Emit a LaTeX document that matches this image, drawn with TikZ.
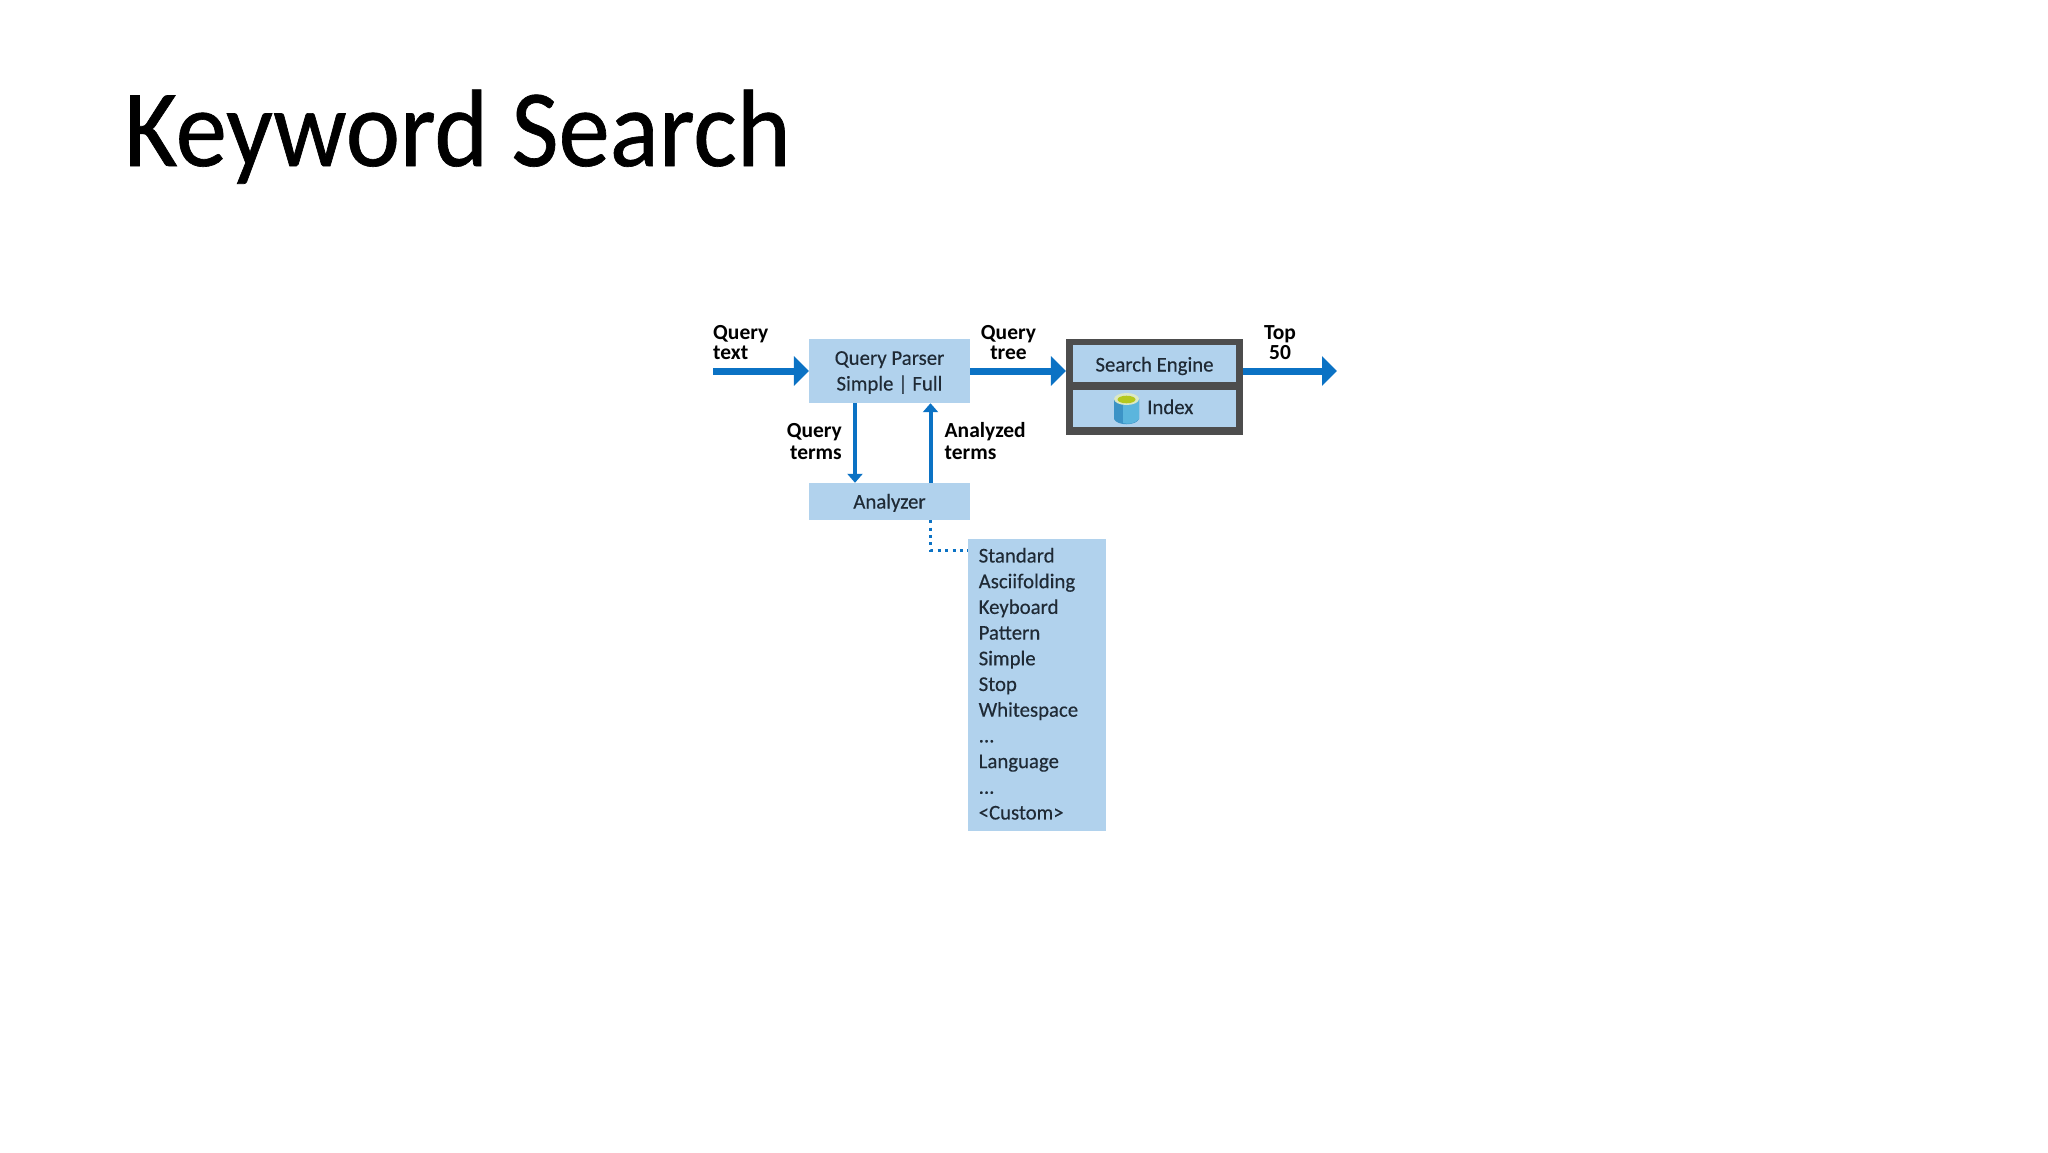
\documentclass[tikz,border=0pt]{standalone}
\usepackage{fontspec}
\setmainfont{Carlito}
\newfontfamily\titlefont[FakeStretch=0.934,FakeBold=0.6]{Carlito}
\newfontfamily\bodyfont[FakeBold=0.3,FakeStretch=0.99]{Carlito}
\usetikzlibrary{arrows.meta,calc}
\definecolor{boxblue}{HTML}{B1D2ED}
\definecolor{flowblue}{HTML}{0B72C4}
\definecolor{framegray}{HTML}{4D4D4D}
\definecolor{txt}{HTML}{1F2A35}
\definecolor{cyldark}{HTML}{3C93C6}
\definecolor{cyllight}{HTML}{5BB5DD}
\definecolor{cylring}{HTML}{DCE8C4}
\definecolor{cyltop}{HTML}{B4C81E}
\tikzset{
  x=1pt,y=-1pt,
  box/.style={fill=boxblue,draw=none,inner sep=0pt},
  body/.style={inner sep=0pt,text=txt,font=\bodyfont\fontsize{21}{25.7}\selectfont},
  lab/.style={inner sep=0pt,text=black,font=\fontsize{21.5}{20.5}\bfseries\selectfont},
  bigflow/.style={draw=flowblue,line width=7pt,-{Triangle[length=15pt,width=29pt]}},
  smallflow/.style={draw=flowblue,line width=4pt,-{Triangle[length=9pt,width=15pt]}},
  dotflow/.style={draw=flowblue,line width=3pt,dash pattern=on 3pt off 4.4pt},
}
\begin{document}
\begin{tikzpicture}
\useasboundingbox (0,0) rectangle (2048,1152);
\node[anchor=base west,inner sep=0pt,font=\titlefont\fontsize{110}{110}\selectfont,text=black] (title) at (124,166) {Keyword Search};

\coordinate (qin) at (713,371);
\coordinate (qout) at (1337,371);
\node[box,minimum width=161pt,minimum height=64pt] (qp) at (889.5,371) {};
\node[body,anchor=base,align=center] (qpt) at (889.5,390.5) {Query Parser\\Simple | Full};
\node[box,minimum width=161pt,minimum height=37pt] (an) at (889.5,501.5) {};
\node[body,anchor=base] (ant) at (889.5,508.5) {Analyzer};
\node[fill=framegray,minimum width=177pt,minimum height=96pt,inner sep=0pt] (frame) at (1154.5,387) {};
\node[box,minimum width=163pt,minimum height=37pt] (se) at (1154.5,363.5) {};
\node[body,anchor=base] (set) at (1154.5,371.5) {Search Engine};
\node[box,minimum width=163pt,minimum height=37pt] (ix) at (1154.5,408.5) {};
\node[body,anchor=base west] (ixt) at (1147,414) {Index};
\node[box,minimum width=138pt,minimum height=292pt] (list) at (1037,685) {};
\node[body,anchor=north west,align=left] (listt) at (978.5,547.7) {Standard\\Asciifolding\\Keyboard\\Pattern\\Simple\\Stop\\Whitespace\\...\\Language\\...\\<Custom>};

% index cylinder
\fill[cyldark] (1114,399) -- (1114,419) .. controls (1117,426) and (1136,426) .. (1139,419) -- (1139,399) -- cycle;
\fill[cyllight] (1123,399) -- (1123,423) .. controls (1129,424.5) and (1134,424) .. (1139,419) -- (1139,399) -- cycle;
\fill[cylring] (1126.5,399) ellipse[x radius=12.5,y radius=6];
\fill[cyltop] (1126.5,399.5) ellipse[x radius=9,y radius=3.8];

\node[lab,anchor=base west,align=left] (l1) at (713,359.5) {Query\\text};
\node[lab,anchor=base,align=center] (l2) at (1008.5,359.5) {Query\\tree};
\node[lab,anchor=base,align=center] (l3) at (1280,359.5) {Top\\50};
\node[lab,anchor=base east,align=right,font=\fontsize{21.5}{22}\bfseries\selectfont] (l4) at (842,459) {Query\\terms};
\node[lab,anchor=base west,align=left,font=\fontsize{21.5}{22}\bfseries\selectfont] (l5) at (944.5,459) {Analyzed\\terms};

\draw[bigflow] (qin) -- (qp.west);
\draw[bigflow] (qp.east) -- (frame.west |- qp.east);
\draw[bigflow] (frame.east |- qout) -- (qout);
\coordinate (dx) at (855,0);
\coordinate (ux) at (930.5,0);
\draw[smallflow] (dx |- qp.south) -- (dx |- an.north);
\draw[smallflow] (ux |- an.north) -- (ux |- qp.south);
\draw[dotflow] (ux |- an.south) |- (list.west |- 0,550);
\end{tikzpicture}
\end{document}
